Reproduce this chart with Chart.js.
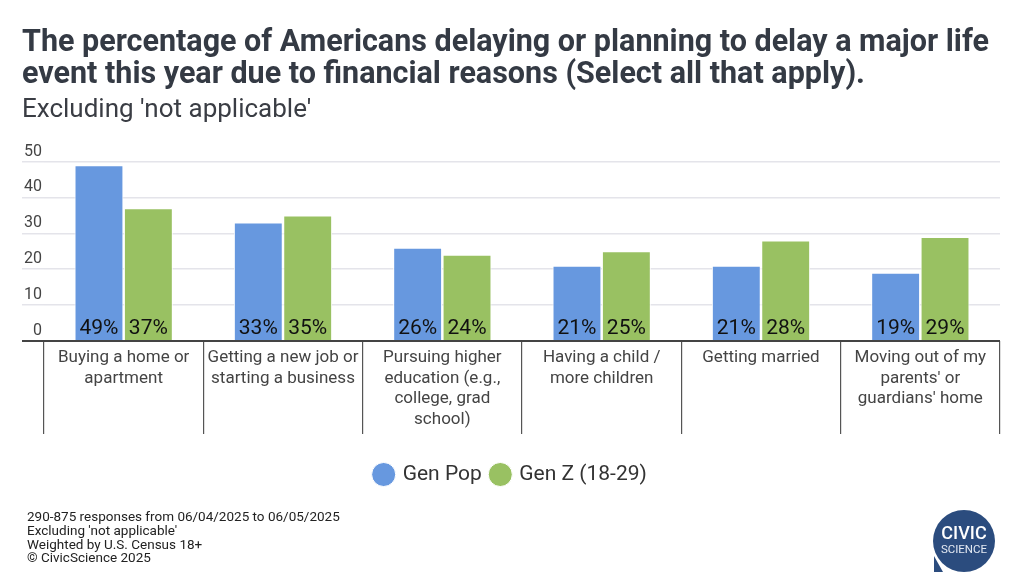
<!DOCTYPE html>
<html>
<head>
<meta charset="utf-8">
<script src="https://cdn.jsdelivr.net/npm/chart.js@4.4.1/dist/chart.umd.min.js"></script>
<style>
  html, body { margin: 0; padding: 0; background: #fff; }
  #wrap { position: relative; width: 1024px; height: 584px; }
  #footer { position: absolute; left: 27px; top: 510px; font: 13.5px/13.8px Roboto, sans-serif; color: #222; white-space: nowrap; }
  #logo { position: absolute; left: 933px; top: 510px; width: 62px; height: 62px; border-radius: 50%; background: #2b4c7e;
          color: #fff; font-family: Roboto, sans-serif; text-align: center; }
  #logo .a { font-size: 18px; font-weight: 500; margin-top: 14px; line-height: 18px; }
  #logo .b { font-size: 11.5px; line-height: 14px; color: #e3e9f2; }
  #tail { position: absolute; left: 934px; top: 556px; width: 0; height: 0; border-left: 9px solid #2b4c7e; border-top: 16px solid transparent; }
</style>
</head>
<body>
<div id="wrap">
  <canvas id="myChart" width="1024" height="584"></canvas>
  <div id="footer">290-875 responses from 06/04/2025 to 06/05/2025<br>Excluding 'not applicable'<br>Weighted by U.S. Census 18+<br>© CivicScience 2025</div>
  <div id="tail"></div>
  <div id="logo"><div class="a">CIVIC</div><div class="b">SCIENCE</div></div>
</div>
<script>
//data
const labels = [
  ["Buying a home or", "apartment"],
  ["Getting a new job or", "starting a business"],
  ["Pursuing higher", "education (e.g.,", "college, grad", "school)"],
  ["Having a child /", "more children"],
  ["Getting married"],
  ["Moving out of my", "parents' or", "guardians' home"],
];
const genPop = [49, 33, 26, 21, 21, 19];
const genZ = [37, 35, 24, 25, 28, 29];
const yTicks = [0, 10, 20, 30, 40, 50];

const data = {
  labels: labels,
  datasets: [
    {
      label: "Gen Pop",
      backgroundColor: "#6798df",
      borderColor: "#ffffff",
      borderWidth: 1,
      data: genPop,
    },
    {
      label: "Gen Z (18-29)",
      backgroundColor: "#99c162",
      borderColor: "#ffffff",
      borderWidth: 1,
      data: genZ,
    },
  ],
};

//value labels at the foot of each bar
const barLabels = {
  id: "barLabels",
  afterDatasetsDraw(chart) {
    const ctx = chart.ctx;
    ctx.save();
    ctx.font = "21px Roboto";
    ctx.fillStyle = "#111";
    ctx.textAlign = "center";
    ctx.textBaseline = "alphabetic";
    chart.data.datasets.forEach((ds, i) => {
      chart.getDatasetMeta(i).data.forEach((bar, j) => {
        ctx.fillText(ds.data[j] + "%", bar.x, bar.base - 6);
      });
    });
    ctx.restore();
  },
};

const config = {
  type: "bar",
  data: data,
  plugins: [barLabels],
  options: {
    responsive: false,
    animation: false,
    datasets: { bar: { categoryPercentage: 0.62, barPercentage: 0.99 } },
    layout: { padding: { left: 22, right: 24, top: 27, bottom: 89 } },
    plugins: {
      title: {
        display: true,
        align: "start",
        text: [
          "The percentage of Americans delaying or planning to delay a major life",
          "event this year due to financial reasons (Select all that apply).",
        ],
        color: "#343a44",
        font: { family: "Roboto", size: 30.5, weight: "bold", lineHeight: 1.06 },
        padding: { top: 0, bottom: 4 },
      },
      subtitle: {
        display: true,
        align: "start",
        text: "Excluding 'not applicable'",
        color: "#3a3d44",
        font: { family: "Roboto", size: 26, lineHeight: 1.15 },
        padding: { top: 0, bottom: 36 },
      },
      legend: {
        position: "bottom",
        labels: {
          usePointStyle: true,
          pointStyle: "circle",
          boxWidth: 17,
          boxHeight: 17,
          color: "#333",
          font: { family: "Roboto", size: 21 },
          padding: 10,
        },
      },
      tooltip: { enabled: false },
    },
    scales: {
      x: {
        border: { display: false },
        grid: {
          offset: true,
          drawOnChartArea: false,
          tickLength: 93,
          color: "#555",
          lineWidth: 1.2,
        },
        ticks: {
          padding: -86,
          maxRotation: 0,
          autoSkip: false,
          color: "#444",
          font: { family: "Roboto", size: 17, lineHeight: 1.2 },
        },
        afterFit(scale) { scale.height = 113; },
      },
      y: {
        min: 0,
        max: 50,
        border: { display: false },
        afterBuildTicks(scale) { scale.ticks = yTicks.map(v => ({ value: v })); },
        afterFit(scale) { scale.width = 22; },
        grid: {
          tickLength: 22,
          color: ctx => (ctx.tick && ctx.tick.value === 0 ? "#444" : "#e4e4ea"),
          lineWidth: ctx => (ctx.tick && ctx.tick.value === 0 ? 2 : 1.5),
        },
        ticks: {
          padding: -20,
          labelOffset: -10,
          color: "#444",
          font: { family: "Roboto", size: 16 },
        },
      },
    },
  },
};
const myChart = new Chart(document.getElementById("myChart"), config);
</script>
</body>
</html>
